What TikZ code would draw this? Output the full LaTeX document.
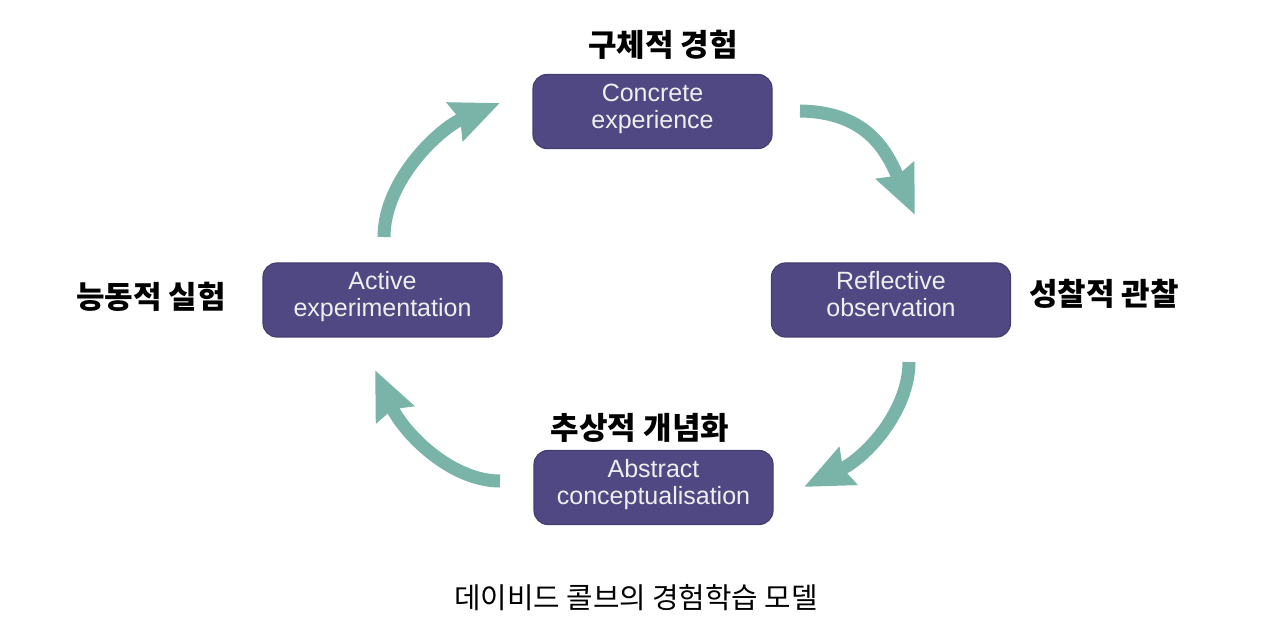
\documentclass[tikz,border=0pt]{standalone}
\usepackage{fontspec}
\setmainfont{Liberation Sans}
\newfontfamily\kr{Noto Sans CJK KR}
\usetikzlibrary{arrows.meta}
\definecolor{boxfill}{HTML}{504882}
\definecolor{boxline}{HTML}{443E70}
\definecolor{boxtext}{HTML}{EEEEEE}
\definecolor{arrowcol}{HTML}{7AB4A8}
\begin{document}
\begin{tikzpicture}[x=1pt,y=-1pt,
  stage/.style={draw=boxline, line width=1.2pt, fill=boxfill, rounded corners=14pt,
    minimum width=239pt, minimum height=74pt, inner sep=0pt},
  stagetext/.style={inner sep=0pt, text=boxtext, align=center, text depth=5.3pt,
    font=\fontsize{25}{27}\selectfont},
  krlabel/.style={font=\kr\bfseries\fontsize{31}{34}\selectfont, inner sep=0pt},
  caption/.style={font=\kr\fontsize{28.8}{31}\selectfont, inner sep=0pt},
  flow/.style={draw=arrowcol, line width=13pt, -{Stealth[width=40pt,length=48pt,inset=5pt]}}]
\useasboundingbox (0,0) rectangle (1280,644);
% stages
\node[stage] (ce) at (652.5,111.5) {};
\node[stage] (ro) at (891,300) {};
\node[stage] (ac) at (653.5,487.5) {};
\node[stage] (ae) at (382.5,300) {};
\node[stagetext] (ce-t) at ([yshift=3pt]ce.center) {Concrete\\experience};
\node[stagetext] (ro-t) at ([yshift=3pt]ro.center) {Reflective\\observation};
\node[stagetext] (ac-t) at ([yshift=3pt]ac.center) {Abstract\\conceptualisation};
\node[stagetext] (ae-t) at ([yshift=3pt]ae.center) {Active\\experimentation};
% labels
\node[krlabel] (lce) at (663,45) {구체적 경험};
\node[krlabel] (lro) at (1104,294) {성찰적 관찰};
\node[krlabel] (lac) at (640,428) {추상적 개념화};
\node[krlabel] (lae) at (151,297) {능동적 실험};
\node[caption] (cap) at (636,598) {데이비드 콜브의 경험학습 모델};
% arrow ends
\coordinate (a1s) at (800,111); \coordinate (a1t) at (915,215);
\coordinate (a2s) at (909,362); \coordinate (a2t) at (804,487);
\coordinate (a3s) at (500,481); \coordinate (a3t) at (375,370);
\coordinate (a4s) at (384,237); \coordinate (a4t) at (500,103);
\draw[flow] (a1s) .. controls (870,112) and (888,155) .. (a1t);
\draw[flow] (a2s) .. controls (909,410) and (867,457) .. (a2t);
\draw[flow] (a3s) .. controls (450,481) and (403,432) .. (a3t);
\draw[flow] (a4s) .. controls (384,180) and (440,128) .. (a4t);
\end{tikzpicture}
\end{document}
